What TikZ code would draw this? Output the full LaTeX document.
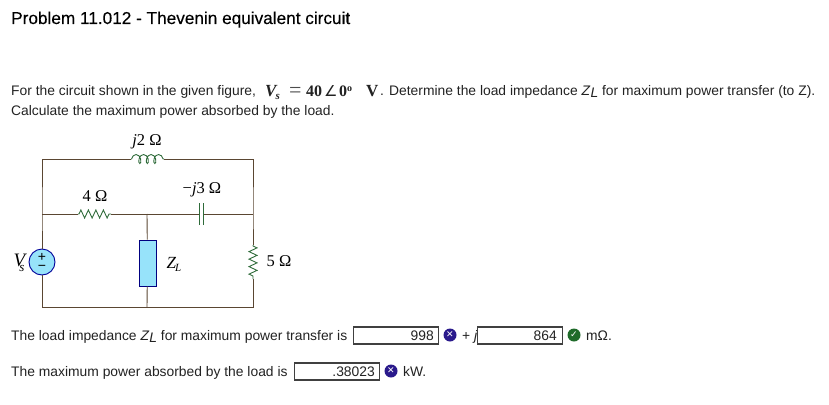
\documentclass[tikz,border=0pt]{standalone}
\usepackage{fontspec}
\setmainfont{Liberation Sans}
\newfontfamily\serifface{Liberation Serif}
\newfontfamily\symface{DejaVu Sans}
\newfontfamily\titleface[FakeBold=0.25]{Liberation Sans}
\usetikzlibrary{decorations.pathmorphing}
\definecolor{wirecol}{HTML}{5A4632}
\definecolor{partcol}{HTML}{2F6B3A}
\definecolor{fillcol}{HTML}{97E3FA}
\definecolor{textcol}{HTML}{222222}
\definecolor{wrongcol}{HTML}{2A1A8C}
\definecolor{rightcol}{HTML}{1F6B2A}
\tikzset{
  wire/.style = {draw=wirecol, line width=0.9pt},
  part/.style = {draw=partcol, line width=0.9pt},
  label/.style = {font=\serifface\fontsize{16.5}{17}\selectfont, text=black, inner sep=0pt},
  txt/.style = {anchor=base west, inner sep=0pt, text=textcol, font=\fontsize{13.85}{16}\selectfont},
  ansbox/.style = {draw=black!75, line width=1.3pt, minimum height=17pt, minimum width=85pt, inner sep=0pt, anchor=west},
  ansnum/.style = {txt, anchor=base east},
  wrongmark/.style = {circle, fill=wrongcol, text=white, minimum size=13pt, inner sep=0pt, font=\symface\fontsize{9}{9}\selectfont\bfseries},
  rightmark/.style = {circle, fill=rightcol, text=white, minimum size=13pt, inner sep=0pt, font=\symface\fontsize{9}{9}\selectfont\bfseries},
}
\begin{document}
\begin{tikzpicture}[x=1pt, y=-1pt]
  \useasboundingbox (0,0) rectangle (829,404);
  % texts
  \node[txt, font=\titleface\fontsize{17.2}{19}\selectfont, text=black] (title) at (11,24) {Problem 11.012 - Thevenin equivalent circuit};
  \node[txt] (line1) at (11,95) {For the circuit shown in the given figure,};
  \node[txt, font=\serifface\bfseries\itshape\fontsize{17}{17}\selectfont] (vs) at (265,96) {V\kern-1pt\raisebox{-3pt}{\fontsize{11}{11}\selectfont s}};
  \node[txt, font=\serifface\fontsize{22}{22}\selectfont, text=black!70] (equal) at (289,97) {=};
  \node[txt, font=\serifface\bfseries\fontsize{16}{16}\selectfont] (value) at (306,96) {40};
  \node[txt, font=\symface\fontsize{15}{15}\selectfont] (ang) at (324,96) {∠};
  \node[txt, font=\serifface\bfseries\fontsize{16}{16}\selectfont] (zero) at (339,96) {0\raisebox{5pt}{\fontsize{10}{10}\selectfont o}};
  \node[txt, font=\serifface\bfseries\fontsize{17}{17}\selectfont] (volt) at (366,96) {V};
  \node[txt] (line1b) at (380,95) {. Determine the load impedance \textit{Z}\raisebox{-2pt}{\textit{L}} for maximum power transfer (to Z).};
  \node[txt] (line2) at (11,115) {Calculate the maximum power absorbed by the load.};
  % circuit
  \coordinate (tl) at (42,159);
  \coordinate (tr) at (253,159);
  \coordinate (ml) at (42,214);
  \coordinate (mc) at (147,214);
  \coordinate (mr) at (253,214);
  \coordinate (bl) at (42,307);
  \coordinate (bc) at (147,307);
  \coordinate (br) at (253,307);
  \coordinate (la) at (131,159);
  \coordinate (lb) at (164,159);
  \coordinate (ra) at (78,214);
  \coordinate (rb) at (111,214);
  \coordinate (ca) at (199,214);
  \coordinate (cb) at (203,214);
  \coordinate (sa) at (253,245);
  \coordinate (sb) at (253,279);
  \node[line width=0.9pt, fill=fillcol, minimum width=17pt, minimum height=46pt, inner sep=0pt, draw=blue!50!black] (zl) at (147.5,263) {};
  \node[circle, draw=blue!60!black, line width=0.9pt, fill=fillcol, minimum size=26pt, inner sep=0pt] (src) at (42,262) {};
  \node[inner sep=0pt, font=\fontsize{14}{14}\selectfont] (plus) at (42,257) {+};
  \node[inner sep=0pt, font=\fontsize{14}{14}\selectfont] (minus) at (42,268) {−};
  \draw[wire] (src) -- (ml) -- (tl) -- (la);
  \draw[wire] (lb) -- (tr) -- (mr) -- (sa);
  \draw[wire] (sb) -- (br) -- (bl) -- (src);
  \draw[wire] (ml) -- (ra);
  \draw[wire] (rb) -- (ca);
  \draw[wire] (cb) -- (mr);
  \draw[wire] (mc) -- (zl);
  \draw[wire] (zl) -- (bc);
  \draw[part, decorate, decoration={coil, aspect=0.6, amplitude=4.5pt, segment length=7.5pt, pre length=0.5pt, post length=0.5pt}] (la) -- (lb);
  \draw[part, decorate, decoration={zigzag, amplitude=4pt, segment length=7.5pt, pre length=1pt, post length=1pt}] (ra) -- (rb);
  \draw[part, decorate, decoration={zigzag, amplitude=4pt, segment length=7.5pt, pre length=1pt, post length=1pt}] (sa) -- (sb);
  \draw[part] ([yshift=-11pt]ca) -- ([yshift=11pt]ca);
  \draw[part] ([yshift=-11pt]cb) -- ([yshift=11pt]cb);
  \node[label] (j2) at (147,142) {\textit{j}2 Ω};
  \node[label] (r4) at (95,196) {4 Ω};
  \node[label] (j3) at (202,190) {−\textit{j}3 Ω};
  \node[label] (r5) at (279,261) {5 Ω};
  \node[label, font=\serifface\itshape\fontsize{19}{19}\selectfont] (vsl) at (19,263) {V\kern-6pt\raisebox{-5pt}{\fontsize{13}{13}\selectfont s}};
  \node[label, font=\serifface\itshape\fontsize{17}{17}\selectfont] (zll) at (174,264) {Z\kern-1pt\raisebox{-3pt}{\fontsize{11}{11}\selectfont L}};
  % answers
  \node[txt] (ans1) at (11,340) {The load impedance \textit{Z}\raisebox{-2pt}{\textit{L}} for maximum power transfer is};
  \node[ansbox] (box1) at (353,335.5) {};
  \node[ansnum] (num1) at (434,340) {998};
  \node[wrongmark] (mark1) at (450,335) {✕};
  \node[txt] (plusj) at (462,340) {+ \textit{j}};
  \node[ansbox] (box2) at (477,335.5) {};
  \node[ansnum] (num2) at (557,340) {864};
  \node[rightmark] (mark2) at (574,335) {✓};
  \node[txt] (unit1) at (586,340) {mΩ.};
  \node[txt] (ans2) at (11,376) {The maximum power absorbed by the load is};
  \node[ansbox] (box3) at (294,371.5) {};
  \node[ansnum] (num3) at (375,376) {.38023};
  \node[wrongmark] (mark3) at (391,371) {✕};
  \node[txt] (unit2) at (403,376) {kW.};
\end{tikzpicture}
\end{document}
